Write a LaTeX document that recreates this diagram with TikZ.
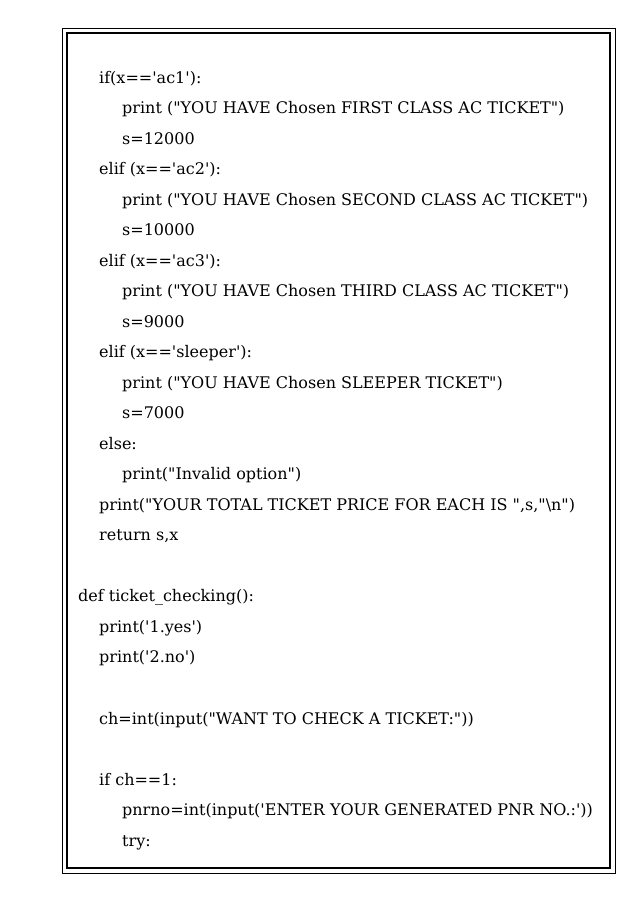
\documentclass[tikz,border=0pt]{standalone}
\usepackage{fontspec}
\setmainfont{DejaVu Serif}[Ligatures=TeXOff]
\begin{document}
\begin{tikzpicture}[x=1pt,y=-1pt,
  code/.style={anchor=base west,inner sep=0pt,font=\fontsize{16}{18}\selectfont}]
\useasboundingbox (0,0) rectangle (638,902);
\draw[line width=1pt] (62,28) rectangle (615,873);
\draw[line width=2.2pt] (67,33) rectangle (610,868);
\def\Lo{78}\def\La{99}\def\Lb{122}
\node[code] (l1) at (\La,83) {if(x=='ac1'):};
\node[code] (l2) at (\Lb,113) {print ("YOU HAVE Chosen FIRST CLASS AC TICKET")};
\node[code] (l3) at (\Lb,144) {s=12000};
\node[code] (l4) at (\La,174) {elif (x=='ac2'):};
\node[code] (l5) at (\Lb,205) {print ("YOU HAVE Chosen SECOND CLASS AC TICKET")};
\node[code] (l6) at (\Lb,235) {s=10000};
\node[code] (l7) at (\La,266) {elif (x=='ac3'):};
\node[code] (l8) at (\Lb,296) {print ("YOU HAVE Chosen THIRD CLASS AC TICKET")};
\node[code] (l9) at (\Lb,327) {s=9000};
\node[code] (l10) at (\La,357) {elif (x=='sleeper'):};
\node[code] (l11) at (\Lb,388) {print ("YOU HAVE Chosen SLEEPER TICKET")};
\node[code] (l12) at (\Lb,418) {s=7000};
\node[code] (l13) at (\La,449) {else:};
\node[code] (l14) at (\Lb,479) {print("Invalid option")};
\node[code] (l15) at (\La,510) {print("YOUR TOTAL TICKET PRICE FOR EACH IS ",s,"\textbackslash n")};
\node[code] (l16) at (\La,540) {return s,x};
\node[code] (l17) at (\Lo,601) {def ticket\_checking():};
\node[code] (l18) at (\La,632) {print('1.yes')};
\node[code] (l19) at (\La,662) {print('2.no')};
\node[code] (l20) at (\La,724) {ch=int(input("WANT TO CHECK A TICKET:"))};
\node[code] (l21) at (\La,785) {if ch==1:};
\node[code] (l22) at (\Lb,815) {pnrno=int(input('ENTER YOUR GENERATED PNR NO.:'))};
\node[code] (l23) at (\Lb,846) {try:};
\end{tikzpicture}
\end{document}
